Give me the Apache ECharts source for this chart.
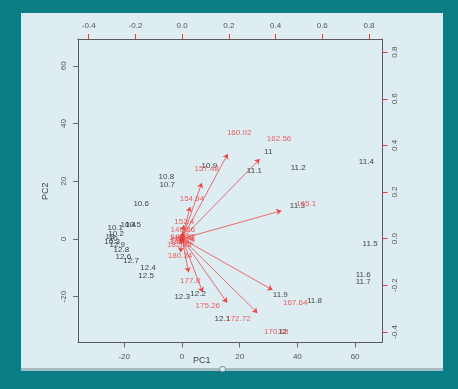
<!DOCTYPE html>
<html><head><meta charset="utf-8">
<script src="https://cdn.jsdelivr.net/npm/echarts@6/dist/echarts.min.js"></script>
<style>
html,body{margin:0;padding:0;background:#0b7e85;width:458px;height:389px;overflow:hidden}
#panel{position:absolute;left:21px;top:13px;width:422px;height:355px;background:#deedf1;border-bottom:3px solid #a6bcc4}
#knob{position:absolute;left:219px;top:366px;width:5px;height:4px;border:1px solid #7f949c;border-radius:3px;background:#deedf1}
#chart{position:absolute;left:0;top:0;width:458px;height:389px}
</style></head><body>
<div id="panel"></div><div id="knob"></div><div id="chart"></div>
<script>
// Scores (observations)
const scoreLabels = ['10','10.1','10.2','10.3','10.4','10.5','10.6','10.7','10.8','10.9',
  '11','11.1','11.2','11.3','11.4','11.5','11.6','11.7','11.8','11.9',
  '12','12.1','12.2','12.3','12.4','12.5','12.6','12.7','12.8','12.9','13'];
const scorePC1 = [-23.8,-23.1,-22.8,-24.2,-18.6,-16.9,-14.1,-5.1,-5.4,9.5,
  29.9,25.1,40.3,40.0,63.9,65.2,62.8,62.8,45.9,34.1,
  34.8,14.0,5.6,0.1,-11.7,-12.4,-20.3,-17.6,-21.0,-22.4,-24.9];
const scorePC2 = [0.0,3.8,1.7,-1.0,4.9,4.9,12.1,18.7,21.5,25.3,
  30.2,23.6,24.6,11.4,26.7,-1.7,-12.5,-14.9,-21.5,-19.4,
  -32.2,-27.7,-19.1,-20.1,-10.1,-12.8,-6.2,-7.6,-3.8,-2.1,0.7];
// Loadings (variables)
const varLabels = ['149.86','152.4','154.94','157.48','160.02','162.56','165.1','167.64',
  '170.18','172.72','175.26','177.8','180.34','182.88','147.32','144.78','142.24','185.42'];
const loadPC1 = [0.003,0.009,0.042,0.105,0.244,0.415,0.531,0.484,
  0.403,0.241,0.110,0.034,-0.009,-0.012,0.004,-0.004,0.003,-0.002];
const loadPC2 = [0.036,0.072,0.170,0.299,0.454,0.427,0.150,-0.275,
  -0.398,-0.343,-0.287,-0.180,-0.073,-0.028,0.010,0.003,-0.005,-0.012];
const scoreTicks = [-20,0,20,40,60];
const loadTicks = [-0.4,-0.2,0.0,0.2,0.4,0.6,0.8];
const arrowScale = 0.8;

const FONT = 'Liberation Sans';
const boxColor = '#5a5a5a';
const tickGray = '#6a6a6a';
const red = '#ea3b3b';
const labelGray = '#555';

function axisCommon(pos, min, max, ticks, tickColor, fmt, rotate, margin) {
  return {
    type: 'value', position: pos, min: min, max: max,
    axisLine: {show: true, onZero: false, lineStyle: {color: boxColor, width: 1}},
    axisTick: {show: true, inside: false, length: 5, customValues: ticks, lineStyle: {color: tickColor, width: 1}},
    axisLabel: {show: true, customValues: ticks, formatter: fmt, rotate: rotate, margin: margin,
      color: labelGray, fontSize: 8, fontFamily: FONT},
    splitLine: {show: false}
  };
}
const fmtS = v => String(Math.round(v));
const fmtL = v => Number(v).toFixed(1);

const chart = echarts.init(document.getElementById('chart'), null, {renderer: 'canvas'});
const option = {
  backgroundColor: 'transparent',
  animation: false,
  grid: {left: 78, right: 75.5, top: 39, bottom: 46.5, containLabel: false},
  xAxis: [
    axisCommon('bottom', -36, 69.5, scoreTicks, tickGray, fmtS, 0, 10),
    axisCommon('top', -0.446, 0.858, loadTicks, red, fmtL, 0, 9)
  ],
  yAxis: [
    axisCommon('left', -35.9, 69.3, scoreTicks, tickGray, fmtS, 90, 10),
    axisCommon('right', -0.4454, 0.8565, loadTicks, red, fmtL, 90, 8)
  ],
  graphic: [
    {type: 'text', left: 193, top: 356, style: {text: 'PC1', fill: '#444', font: '9px ' + FONT}},
    {type: 'text', x: 41, y: 200, rotation: Math.PI / 2, style: {text: 'PC2', fill: '#444', font: '9px ' + FONT}}
  ],
  series: [
    {
      type: 'lines', coordinateSystem: 'cartesian2d', xAxisIndex: 1, yAxisIndex: 1,
      symbol: ['none', 'arrow'], symbolSize: 5, silent: true,
      lineStyle: {color: red, width: 0.8, opacity: 0.9, curveness: 0},
      data: varLabels.map((n, i) => ({coords: [[0, 0], [loadPC1[i] * arrowScale, loadPC2[i] * arrowScale]]})),
      z: 3
    },
    {
      type: 'scatter', xAxisIndex: 0, yAxisIndex: 0, symbolSize: 1,
      itemStyle: {color: 'rgba(0,0,0,0)'}, silent: true,
      label: {show: true, position: 'inside', formatter: p => p.name, color: '#111', fontSize: 8, fontFamily: FONT},
      data: scoreLabels.map((n, i) => ({name: n, value: [scorePC1[i], scorePC2[i]]})),
      z: 4
    },
    {
      type: 'scatter', xAxisIndex: 1, yAxisIndex: 1, symbolSize: 1,
      itemStyle: {color: 'rgba(0,0,0,0)'}, silent: true,
      label: {show: true, position: 'inside', formatter: p => p.name, color: red, fontSize: 8, fontFamily: FONT},
      data: varLabels.map((n, i) => ({name: n, value: [loadPC1[i], loadPC2[i]]})),
      z: 5
    }
  ]
};
chart.setOption(option);
</script>
</body></html>
